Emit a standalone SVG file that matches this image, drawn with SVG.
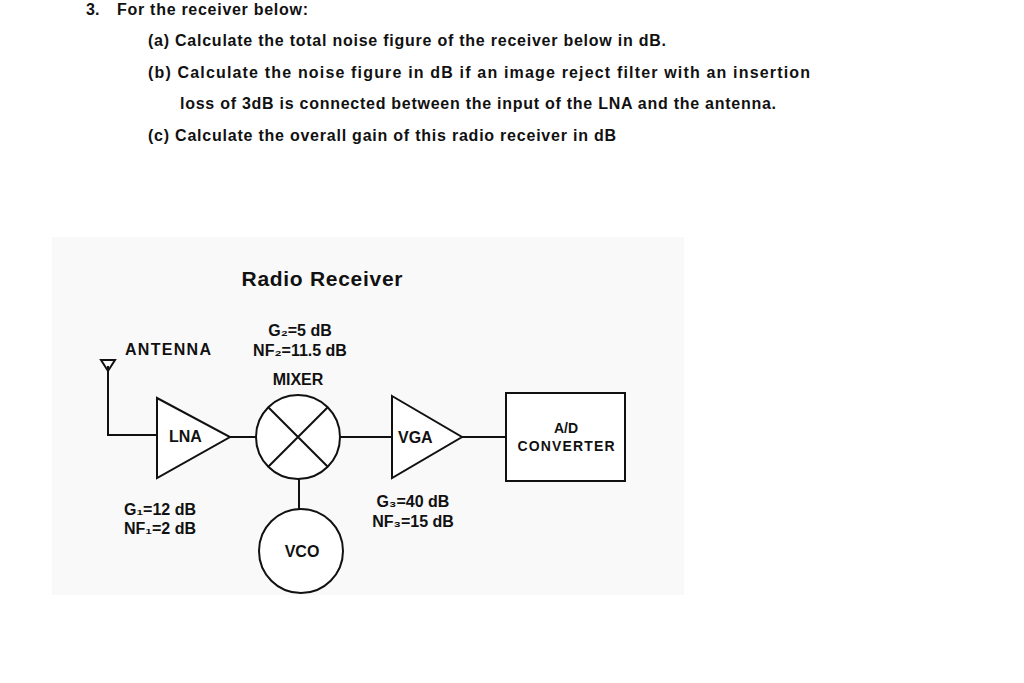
<svg xmlns="http://www.w3.org/2000/svg" width="1024" height="683" viewBox="0 0 1024 683">
<style>
text{font-family:"Liberation Sans",Arial,sans-serif;font-weight:bold;fill:#111}
.q{font-size:16px}
.d{font-size:16px}
.s{fill:none;stroke:#111;stroke-width:2}
.w{fill:#fff;stroke:#111;stroke-width:2}
</style>
<rect width="1024" height="683" fill="#fff"/>
<text class="q" x="86" y="15">3.</text>
<text class="q" x="117" y="15" textLength="191">For the receiver below:</text>
<text class="q" x="148" y="46" textLength="518">(a)  Calculate the total noise figure of the receiver below in dB.</text>
<text class="q" x="148" y="78" textLength="662">(b)  Calculate the noise figure in dB if an image reject filter with an insertion</text>
<text class="q" x="180" y="109" textLength="596">loss of 3dB is connected between the input of the LNA and the antenna.</text>
<text class="q" x="148" y="141" textLength="468">(c)  Calculate the overall gain of this radio receiver in dB</text>
<rect x="52" y="237" width="632" height="358" fill="#f9f9f9"/>
<text x="322" y="286" font-size="21" text-anchor="middle" textLength="161">Radio Receiver</text>
<g id="connectors">
<path class="s" d="M108 366V435H157M230 437H256M340 437H392M462 437H506M299 479V509"/>
</g>
<g id="antenna"><path class="s" d="M101 360H115L108 371Z"/><text class="d" x="125" y="355" textLength="86">ANTENNA</text></g>
<g id="lna"><path class="w" d="M157 398L230 437L157 478Z"/><text class="d" x="169" y="442">LNA</text>
<text class="d" x="124" y="515">G₁=12 dB</text><text class="d" x="124" y="534">NF₁=2 dB</text></g>
<g id="mixer"><circle class="w" cx="298" cy="437" r="42"/><path class="s" d="M268 407L328 467M328 407L268 467"/>
<text class="d" x="300" y="336" text-anchor="middle">G₂=5 dB</text><text class="d" x="300" y="356" text-anchor="middle">NF₂=11.5 dB</text><text class="d" x="298" y="385" text-anchor="middle">MIXER</text></g>
<g id="vco"><circle class="w" cx="301" cy="551" r="42"/><text class="d" x="302" y="557" text-anchor="middle">VCO</text></g>
<g id="vga"><path class="w" d="M392 396L462 437L392 478Z"/><text class="d" x="398" y="443">VGA</text>
<text class="d" x="413" y="507" text-anchor="middle">G₃=40 dB</text><text class="d" x="413" y="527" text-anchor="middle">NF₃=15 dB</text></g>
<g id="adc"><rect class="w" x="506" y="393" width="119" height="88"/><text x="566" y="433" font-size="14" text-anchor="middle">A/D</text><text x="566" y="451" font-size="14" text-anchor="middle" textLength="97">CONVERTER</text></g>
</svg>
